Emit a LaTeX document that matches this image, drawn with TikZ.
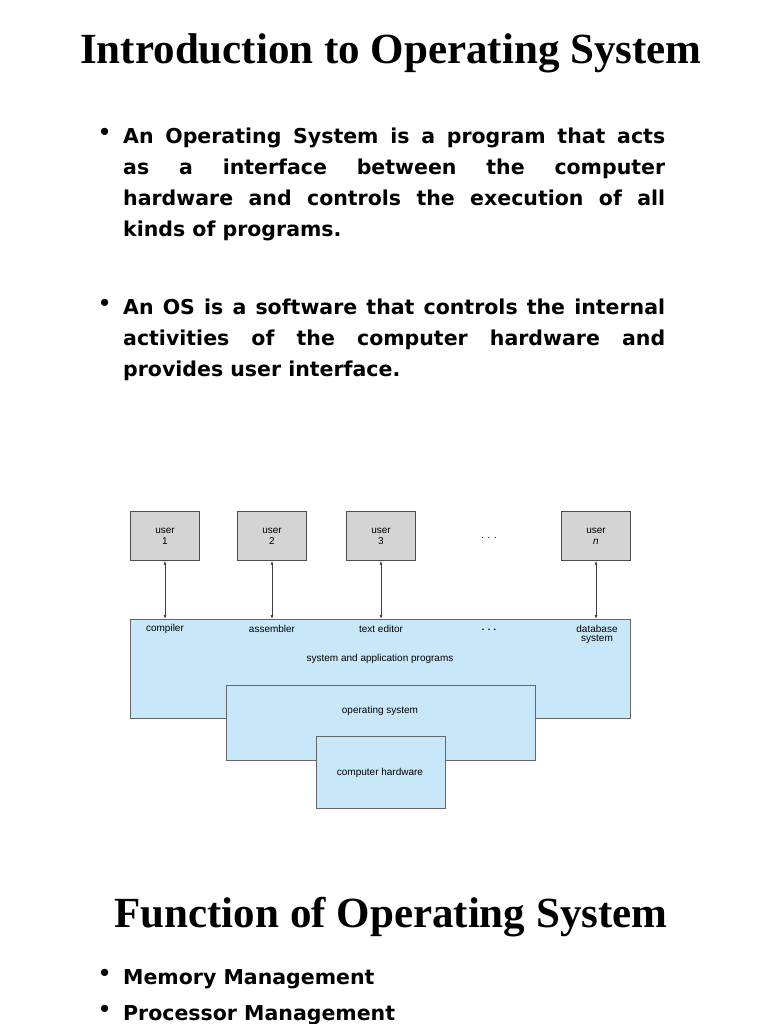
\documentclass[tikz,border=0pt]{standalone}
\usepackage{fontspec}
\setmainfont{Liberation Serif}
\setsansfont{DejaVu Sans}
\newfontfamily\diagfont{Liberation Sans}
\usetikzlibrary{arrows.meta, positioning}
\definecolor{box_blue}{RGB}{200, 232, 250}
\definecolor{user_gray}{RGB}{212, 212, 212}
\tikzset{
    title_text/.style={font=\fontsize{43}{48}\selectfont\bfseries, anchor=center},
    bullet_text/.style={font=\sffamily\bfseries\fontsize{20.5}{31}\selectfont, execute at begin node={\hyphenpenalty=10000\relax}, text width=542pt, align=justify, anchor=north west, inner sep=0pt},
    bullet_dot/.style={font=\sffamily\bfseries\fontsize{20.5}{31}\selectfont, anchor=north west, inner sep=0pt},
    user_box/.style={draw=black!70, fill=user_gray, minimum width=69pt, minimum height=49pt, inner sep=0pt},
    layer_box/.style={draw=black!60, fill=box_blue, anchor=north west, inner sep=0pt},
    diag_label/.style={font=\diagfont\fontsize{10}{11}\selectfont, inner sep=0pt, align=center},
    link_arrow/.style={{Latex[length=4pt,width=3pt]}-{Latex[length=4pt,width=3pt]}, thick, draw=black!75}
}
\begin{document}
\begin{tikzpicture}[x=1pt, y=-1pt]
\useasboundingbox (0,0) rectangle (768,1024);
\clip (0,0) rectangle (768,1024);

% Titles
\node[title_text] (title) at (391,53) {Introduction to Operating System};
\node[title_text] (title2) at (391,917) {Function of Operating System};

% Bullets
\node[bullet_dot] (dot1) at (98,128) {•};
\node[bullet_text] (para1) at (123,128) {An Operating System is a program that acts\linebreak as a interface between the computer\linebreak hardware and controls the execution of all\linebreak kinds of programs.};
\node[bullet_dot] (dot2) at (98,299) {•};
\node[bullet_text] (para2) at (123,299) {An OS is a software that controls the internal\linebreak activities of the computer hardware and\linebreak provides user interface.};
\node[bullet_dot] (dot3) at (98,969) {•};
\node[bullet_dot] (mem) at (123,969) {Memory Management};
\node[bullet_dot] (dot4) at (98,1005) {•};
\node[bullet_dot] (proc) at (123,1005) {Processor Management};

% Layers
\node[layer_box, minimum width=500pt, minimum height=99pt] (apps) at (130,619) {};
\node[layer_box, minimum width=309pt, minimum height=75pt] (os) at (226,685) {};
\node[layer_box, minimum width=129pt, minimum height=72pt] (hw) at (316,736) {};
\node[diag_label] (appslabel) at (380,659) {system and application programs};
\node[diag_label] (oslabel) at (380,711) {operating system};
\node[diag_label] (hwlabel) at (380,773) {computer hardware};

% Programs
\node[diag_label] (compiler) at (165,629) {compiler};
\node[diag_label] (assembler) at (272,629) {assembler};
\node[diag_label] (editor) at (381,629) {text editor};
\node[diag_label, font=\bfseries] (pdots) at (489,630) {. . .};
\node[diag_label] (database) at (597,634) {database\\[-2pt]system};

% Users
\node[user_box] (user1) at (165,536) {};
\node[user_box] (user2) at (272,536) {};
\node[user_box] (user3) at (381,536) {};
\node[user_box] (usern) at (596,536) {};
\node[diag_label] at (user1) {user\\1};
\node[diag_label] at (user2) {user\\2};
\node[diag_label] at (user3) {user\\3};
\node[diag_label] at (usern) {user\\\textit{n}};
\node[diag_label] (udots) at (489,538) {. . .};

% Arrows
\foreach \u in {user1, user2, user3, usern} {
    \draw[link_arrow] (\u.south) -- (\u.south |- apps.north);
}

\end{tikzpicture}
\end{document}
